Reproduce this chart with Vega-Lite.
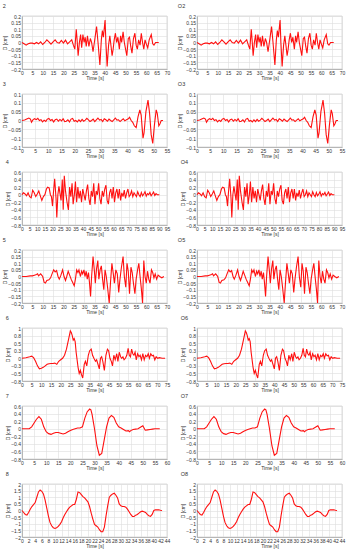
{
"$schema": "https://vega.github.io/schema/vega-lite/v6.json",
"background": "white",
"padding": {"left": 2, "top": 3, "right": 2, "bottom": 0},
"columns": 2,
"spacing": {"row": 0, "column": 6},
"config": {
  "view": {"stroke": "#b8b8b8", "strokeWidth": 0.6},
  "line": {"color": "#ff1010", "strokeWidth": 1.1, "interpolate": "linear"},
  "axis": {"labelFontSize": 5, "titleFontSize": 5, "labelFont": "Liberation Sans", "titleFont": "Liberation Sans", "labelColor": "#333333", "titleColor": "#333333", "titleFontWeight": "normal", "gridColor": "#dddddd", "gridWidth": 0.6, "domainColor": "#999999", "domainWidth": 0.6, "tickColor": "#999999", "tickSize": 0, "labelPadding": 1.5, "titlePadding": 0, "labelOverlap": false, "labelFlush": false},
  "title": {"fontSize": 5.5, "font": "Liberation Sans", "fontWeight": "normal", "anchor": "start", "frame": "bounds", "offset": 5, "color": "#333333"}
},
"datasets": {
"s2": [{"t":0,"d":0},{"t":1,"d":-0.01},{"t":2,"d":-0.02},{"t":3,"d":-0.01},{"t":4,"d":-0.005},{"t":5,"d":-0.005},{"t":6,"d":-0.01},{"t":7,"d":0},{"t":8,"d":-0.01},{"t":9,"d":0.005},{"t":10,"d":-0.015},{"t":11,"d":0},{"t":12,"d":0.02},{"t":13,"d":0.005},{"t":14,"d":-0.012},{"t":15,"d":0.005},{"t":16,"d":0.02},{"t":17,"d":0},{"t":18,"d":-0.005},{"t":19,"d":0.015},{"t":20,"d":-0.005},{"t":21,"d":0.018},{"t":22,"d":-0.01},{"t":23,"d":0.005},{"t":24,"d":0.02},{"t":24.8,"d":-0.02},{"t":25.5,"d":-0.05},{"t":26.2,"d":0.1},{"t":26.6,"d":0.02},{"t":27.1,"d":-0.1},{"t":27.7,"d":0},{"t":28.3,"d":0.06},{"t":28.8,"d":-0.04},{"t":29.4,"d":0.06},{"t":30,"d":0},{"t":30.5,"d":0.04},{"t":31,"d":-0.03},{"t":31.6,"d":0.05},{"t":32.3,"d":-0.03},{"t":33,"d":0.03},{"t":33.6,"d":0},{"t":34.3,"d":-0.07},{"t":35.2,"d":0.03},{"t":36,"d":0.12},{"t":36.7,"d":0},{"t":37.6,"d":-0.17},{"t":38.3,"d":0.02},{"t":38.8,"d":0.09},{"t":39.3,"d":0.04},{"t":40.1,"d":0.17},{"t":40.5,"d":0},{"t":41.1,"d":-0.18},{"t":41.8,"d":-0.02},{"t":42.4,"d":0.05},{"t":43,"d":-0.03},{"t":43.5,"d":-0.1},{"t":44,"d":-0.05},{"t":44.5,"d":0.02},{"t":45.1,"d":0.07},{"t":45.7,"d":0},{"t":46.3,"d":0.04},{"t":47,"d":-0.05},{"t":47.6,"d":0.05},{"t":48.1,"d":0},{"t":48.8,"d":0.08},{"t":49.4,"d":0},{"t":50,"d":-0.05},{"t":50.6,"d":-0.1},{"t":51.3,"d":0.03},{"t":51.9,"d":0.04},{"t":52.5,"d":-0.03},{"t":53.1,"d":-0.08},{"t":53.8,"d":0.03},{"t":54.5,"d":0.07},{"t":55.1,"d":-0.02},{"t":55.7,"d":-0.05},{"t":56.3,"d":0.02},{"t":57,"d":-0.02},{"t":57.6,"d":0.07},{"t":58.2,"d":0},{"t":58.8,"d":-0.05},{"t":59.4,"d":0.02},{"t":60,"d":-0.01},{"t":60.7,"d":-0.04},{"t":61.4,"d":0.02},{"t":62.4,"d":0.06},{"t":63.1,"d":-0.01},{"t":63.7,"d":-0.02},{"t":64.5,"d":0},{"t":65.5,"d":0},{"t":66,"d":0}],
"s3": [{"t":0,"d":0},{"t":1,"d":0.003},{"t":2,"d":0.01},{"t":2.6,"d":0.014},{"t":3.2,"d":0.008},{"t":3.6,"d":-0.01},{"t":4.2,"d":0.005},{"t":4.8,"d":0.01},{"t":5.4,"d":0.005},{"t":6,"d":0.012},{"t":6.6,"d":0},{"t":7.2,"d":0.005},{"t":7.8,"d":-0.008},{"t":8.4,"d":0.002},{"t":9,"d":-0.005},{"t":9.6,"d":0.008},{"t":10.2,"d":0.012},{"t":10.8,"d":0},{"t":11.4,"d":0.006},{"t":12,"d":-0.008},{"t":12.6,"d":0.004},{"t":13.2,"d":0.008},{"t":13.8,"d":-0.004},{"t":14.4,"d":0.006},{"t":15,"d":-0.002},{"t":15.6,"d":0.01},{"t":16.2,"d":-0.006},{"t":16.8,"d":-0.004},{"t":17.4,"d":0.004},{"t":18,"d":-0.008},{"t":18.6,"d":0.008},{"t":19.2,"d":0.012},{"t":19.8,"d":-0.004},{"t":20.4,"d":0},{"t":21,"d":-0.008},{"t":21.6,"d":0.004},{"t":22.2,"d":-0.006},{"t":22.8,"d":0.006},{"t":23.4,"d":-0.004},{"t":24,"d":0.002},{"t":24.6,"d":0.012},{"t":25.2,"d":0.004},{"t":25.8,"d":-0.006},{"t":26.4,"d":0},{"t":27,"d":0.008},{"t":27.6,"d":-0.006},{"t":28.2,"d":0.004},{"t":28.8,"d":0.014},{"t":29.4,"d":0.002},{"t":30,"d":0.006},{"t":30.6,"d":-0.006},{"t":31.2,"d":0.01},{"t":31.8,"d":0.004},{"t":32.4,"d":-0.004},{"t":33,"d":0.008},{"t":33.6,"d":0},{"t":34.2,"d":-0.006},{"t":34.8,"d":0.004},{"t":35.4,"d":0.014},{"t":36,"d":0.002},{"t":36.6,"d":0.004},{"t":37.2,"d":-0.006},{"t":37.8,"d":0.002},{"t":38.4,"d":0.01},{"t":39,"d":-0.002},{"t":39.6,"d":0.004},{"t":40.2,"d":0.008},{"t":40.8,"d":0.018},{"t":41.4,"d":0},{"t":42,"d":-0.01},{"t":42.6,"d":-0.03},{"t":43.3,"d":-0.04},{"t":44,"d":0.02},{"t":44.7,"d":0.06},{"t":45.2,"d":0.03},{"t":45.9,"d":-0.1},{"t":46.3,"d":-0.07},{"t":47,"d":0.05},{"t":47.8,"d":0.115},{"t":48.4,"d":0.04},{"t":49,"d":-0.08},{"t":49.6,"d":-0.13},{"t":50.2,"d":-0.03},{"t":50.9,"d":0.06},{"t":51.3,"d":0.04},{"t":51.9,"d":-0.03},{"t":52.3,"d":-0.02},{"t":52.8,"d":0},{"t":53.5,"d":0}],
"s4": [{"t":0,"d":0},{"t":1,"d":0.05},{"t":2,"d":0.02},{"t":3,"d":-0.03},{"t":4,"d":0.05},{"t":5,"d":-0.05},{"t":6,"d":-0.08},{"t":7,"d":0.12},{"t":8,"d":0.05},{"t":9,"d":-0.05},{"t":10,"d":0.02},{"t":11,"d":0.1},{"t":12,"d":-0.03},{"t":13,"d":-0.15},{"t":14,"d":-0.05},{"t":15,"d":0},{"t":16,"d":0.15},{"t":16.8,"d":0.2},{"t":17.8,"d":0.18},{"t":18.6,"d":0},{"t":19.3,"d":-0.05},{"t":20,"d":-0.3},{"t":20.6,"d":0.05},{"t":21.4,"d":0.42},{"t":22.3,"d":-0.1},{"t":22.8,"d":-0.6},{"t":23.5,"d":0},{"t":24.2,"d":0.22},{"t":25,"d":0},{"t":25.6,"d":-0.15},{"t":26.4,"d":0.4},{"t":27,"d":-0.4},{"t":27.7,"d":0.5},{"t":28.5,"d":0.1},{"t":29.5,"d":-0.2},{"t":30.4,"d":-0.4},{"t":31.2,"d":0.2},{"t":32,"d":-0.05},{"t":32.8,"d":0.3},{"t":33.5,"d":-0.25},{"t":34.3,"d":0},{"t":35,"d":0.35},{"t":35.8,"d":-0.2},{"t":36.6,"d":0.2},{"t":37.4,"d":-0.1},{"t":38.2,"d":0.1},{"t":39,"d":-0.2},{"t":39.8,"d":0.15},{"t":40.6,"d":0},{"t":41.4,"d":-0.15},{"t":42.2,"d":0.1},{"t":43,"d":0.27},{"t":43.8,"d":-0.1},{"t":44.6,"d":-0.27},{"t":45.4,"d":0.1},{"t":46.2,"d":-0.05},{"t":47,"d":0.3},{"t":47.8,"d":-0.25},{"t":48.6,"d":0.1},{"t":49.4,"d":0},{"t":50.2,"d":0.3},{"t":51,"d":-0.1},{"t":51.8,"d":-0.25},{"t":52.6,"d":0.1},{"t":53.4,"d":-0.05},{"t":54.2,"d":0.15},{"t":55,"d":0.25},{"t":55.8,"d":-0.15},{"t":56.6,"d":-0.25},{"t":57.4,"d":0.05},{"t":58.2,"d":0.15},{"t":59,"d":-0.1},{"t":59.8,"d":0.2},{"t":60.6,"d":-0.2},{"t":61.4,"d":0.05},{"t":62.2,"d":0.15},{"t":63,"d":-0.1},{"t":63.8,"d":0.15},{"t":64.6,"d":-0.15},{"t":65.4,"d":0.05},{"t":66.2,"d":-0.05},{"t":67,"d":0.12},{"t":67.8,"d":-0.1},{"t":68.6,"d":0.05},{"t":69.4,"d":0.15},{"t":70.2,"d":-0.05},{"t":71,"d":0},{"t":71.8,"d":0.1},{"t":72.6,"d":-0.05},{"t":73.4,"d":0.05},{"t":74.2,"d":0},{"t":75,"d":-0.05},{"t":75.8,"d":0.08},{"t":76.6,"d":0},{"t":77.4,"d":-0.05},{"t":78.2,"d":0.06},{"t":79,"d":-0.03},{"t":79.8,"d":0.02},{"t":80.6,"d":0.08},{"t":81.4,"d":-0.04},{"t":82.2,"d":0.03},{"t":83,"d":0},{"t":83.8,"d":0.06},{"t":84.6,"d":-0.03},{"t":85.4,"d":0.02},{"t":86.2,"d":0.07},{"t":87,"d":-0.02},{"t":87.8,"d":0.03},{"t":88.6,"d":0},{"t":90,"d":0}],
"s5": [{"t":0,"d":0},{"t":2,"d":0},{"t":4,"d":0.005},{"t":5,"d":0.005},{"t":6,"d":0.01},{"t":7,"d":0.015},{"t":7.5,"d":0.02},{"t":8,"d":0.005},{"t":9,"d":0.02},{"t":9.5,"d":0.01},{"t":10,"d":0},{"t":10.7,"d":-0.045},{"t":11.3,"d":-0.05},{"t":12,"d":-0.03},{"t":13,"d":-0.025},{"t":13.8,"d":-0.01},{"t":14.5,"d":0.02},{"t":15.3,"d":0.05},{"t":16,"d":0.035},{"t":16.7,"d":0.045},{"t":17.4,"d":0},{"t":18,"d":-0.02},{"t":18.8,"d":0.01},{"t":19.6,"d":0.05},{"t":20.3,"d":0},{"t":21,"d":-0.03},{"t":21.6,"d":0},{"t":22.3,"d":0.04},{"t":23,"d":0.01},{"t":23.7,"d":-0.02},{"t":24.3,"d":-0.04},{"t":25.2,"d":-0.07},{"t":25.8,"d":-0.02},{"t":26.4,"d":0.05},{"t":27,"d":0.03},{"t":27.5,"d":0.05},{"t":28.2,"d":0},{"t":28.8,"d":0.04},{"t":29.3,"d":0.02},{"t":29.9,"d":0.05},{"t":30.4,"d":0},{"t":31,"d":0.04},{"t":31.5,"d":-0.02},{"t":32.1,"d":0.03},{"t":32.6,"d":-0.05},{"t":33.1,"d":-0.15},{"t":33.6,"d":0},{"t":34.3,"d":0.15},{"t":34.9,"d":0.05},{"t":35.4,"d":-0.05},{"t":36,"d":0.06},{"t":36.6,"d":0.12},{"t":37.1,"d":-0.02},{"t":37.7,"d":0.05},{"t":38.3,"d":0.08},{"t":38.9,"d":-0.02},{"t":39.5,"d":-0.1},{"t":40.1,"d":0.05},{"t":40.7,"d":0},{"t":41.3,"d":-0.08},{"t":42.1,"d":-0.2},{"t":42.7,"d":-0.05},{"t":43.4,"d":0.1},{"t":44,"d":0.03},{"t":44.6,"d":-0.05},{"t":45.3,"d":0.05},{"t":46,"d":0.02},{"t":46.7,"d":-0.12},{"t":47.3,"d":-0.02},{"t":48,"d":0.07},{"t":48.8,"d":0.15},{"t":49.4,"d":0},{"t":50.1,"d":-0.08},{"t":50.7,"d":0.1},{"t":51.3,"d":0.04},{"t":51.9,"d":-0.13},{"t":52.6,"d":0.07},{"t":53.2,"d":0.03},{"t":53.8,"d":-0.05},{"t":54.5,"d":-0.13},{"t":55.1,"d":-0.02},{"t":55.8,"d":0.05},{"t":56.4,"d":0.1},{"t":57,"d":0},{"t":57.6,"d":-0.09},{"t":58.2,"d":-0.2},{"t":58.8,"d":0.12},{"t":59.4,"d":0},{"t":60,"d":-0.05},{"t":60.6,"d":0.04},{"t":61.2,"d":-0.02},{"t":61.8,"d":-0.05},{"t":62.5,"d":0.05},{"t":63.1,"d":0.03},{"t":63.7,"d":-0.01},{"t":64.3,"d":0.02},{"t":65,"d":-0.02},{"t":65.7,"d":0.01},{"t":66.5,"d":0},{"t":67.5,"d":-0.01},{"t":68.5,"d":0}],
"s6": [{"t":0,"d":0},{"t":2,"d":0.02},{"t":4,"d":0.05},{"t":5,"d":0.07},{"t":6,"d":0.02},{"t":7,"d":-0.1},{"t":8,"d":-0.25},{"t":9,"d":-0.35},{"t":10,"d":-0.33},{"t":11,"d":-0.3},{"t":12,"d":-0.25},{"t":13,"d":-0.2},{"t":14,"d":-0.18},{"t":15,"d":-0.17},{"t":16,"d":-0.17},{"t":17,"d":-0.16},{"t":18,"d":-0.2},{"t":19,"d":-0.1},{"t":20,"d":-0.05},{"t":21,"d":0},{"t":22,"d":0.1},{"t":23,"d":0.3},{"t":24,"d":0.6},{"t":25,"d":0.9},{"t":25.5,"d":0.85},{"t":26,"d":0.75},{"t":26.5,"d":0.6},{"t":27,"d":0.65},{"t":27.5,"d":0.55},{"t":28,"d":0.2},{"t":29,"d":-0.3},{"t":29.6,"d":-0.5},{"t":30.2,"d":-0.4},{"t":30.8,"d":-0.55},{"t":31.4,"d":-0.65},{"t":32.2,"d":-0.2},{"t":32.8,"d":-0.1},{"t":33.5,"d":-0.25},{"t":34.3,"d":0.1},{"t":35,"d":0.25},{"t":35.8,"d":0.3},{"t":36.5,"d":0.1},{"t":37.2,"d":0},{"t":38,"d":-0.1},{"t":38.6,"d":-0.05},{"t":39.3,"d":-0.2},{"t":40,"d":-0.35},{"t":40.6,"d":0},{"t":41.2,"d":0.05},{"t":41.8,"d":-0.1},{"t":42.6,"d":-0.4},{"t":43.4,"d":0.1},{"t":44.2,"d":0.3},{"t":44.8,"d":0.25},{"t":45.5,"d":0},{"t":46.2,"d":-0.1},{"t":46.8,"d":-0.25},{"t":47.5,"d":0.1},{"t":48.2,"d":-0.05},{"t":49,"d":0.15},{"t":49.6,"d":-0.1},{"t":50.3,"d":0.2},{"t":51,"d":0.05},{"t":51.6,"d":0},{"t":52.2,"d":0.05},{"t":52.8,"d":-0.05},{"t":53.5,"d":0},{"t":54.2,"d":0.1},{"t":54.9,"d":0.33},{"t":55.5,"d":0.1},{"t":56.1,"d":0.05},{"t":56.7,"d":0.3},{"t":57.3,"d":0.15},{"t":57.9,"d":0.1},{"t":58.5,"d":0.2},{"t":59.1,"d":-0.05},{"t":59.8,"d":0.15},{"t":60.5,"d":0.05},{"t":61.1,"d":0.1},{"t":61.8,"d":-0.05},{"t":62.5,"d":0.15},{"t":63.2,"d":-0.05},{"t":63.9,"d":0.1},{"t":64.6,"d":0.05},{"t":65.3,"d":0.15},{"t":65.9,"d":0},{"t":66.6,"d":0.15},{"t":67.3,"d":0.08},{"t":68,"d":0.1},{"t":68.7,"d":-0.05},{"t":69.4,"d":0.05},{"t":70.2,"d":0},{"t":71,"d":0.02},{"t":72.5,"d":0},{"t":74,"d":0}],
"s7": [{"t":0,"d":0},{"t":1,"d":0},{"t":2,"d":0},{"t":3,"d":0},{"t":4,"d":0.05},{"t":5,"d":0.15},{"t":6,"d":0.25},{"t":7,"d":0.32},{"t":8,"d":0.25},{"t":9,"d":0.05},{"t":10,"d":-0.08},{"t":11,"d":-0.13},{"t":12,"d":-0.15},{"t":13,"d":-0.12},{"t":14,"d":-0.1},{"t":15,"d":-0.1},{"t":16,"d":-0.12},{"t":17,"d":-0.14},{"t":18,"d":-0.12},{"t":19,"d":-0.08},{"t":20,"d":-0.05},{"t":21,"d":-0.02},{"t":22,"d":0},{"t":23,"d":0.02},{"t":24,"d":0.02},{"t":25,"d":0.05},{"t":26,"d":0.28},{"t":27,"d":0.45},{"t":28,"d":0.52},{"t":28.5,"d":0.5},{"t":29,"d":0.38},{"t":30,"d":0},{"t":31,"d":-0.45},{"t":32,"d":-0.7},{"t":33,"d":-0.65},{"t":34,"d":-0.3},{"t":35,"d":0.05},{"t":36,"d":0.28},{"t":37,"d":0.35},{"t":38,"d":0.3},{"t":39,"d":0.15},{"t":40,"d":0.05},{"t":41,"d":0.02},{"t":42,"d":-0.02},{"t":43,"d":-0.06},{"t":44,"d":-0.05},{"t":44.5,"d":-0.08},{"t":45,"d":-0.05},{"t":46,"d":-0.02},{"t":47,"d":-0.01},{"t":48,"d":0},{"t":49,"d":0.04},{"t":50,"d":0.08},{"t":51,"d":-0.04},{"t":52,"d":-0.03},{"t":53,"d":-0.02},{"t":54,"d":-0.01},{"t":55,"d":0},{"t":56,"d":0},{"t":57,"d":0}],
"s8": [{"t":0,"d":0},{"t":0.5,"d":-0.15},{"t":1,"d":-0.3},{"t":1.5,"d":-0.35},{"t":2,"d":-0.15},{"t":2.5,"d":0.1},{"t":3,"d":0.3},{"t":3.5,"d":0.45},{"t":4,"d":0.6},{"t":4.5,"d":1.0},{"t":5,"d":1.4},{"t":5.5,"d":1.55},{"t":6,"d":1.45},{"t":6.5,"d":1.25},{"t":7,"d":0.8},{"t":7.5,"d":0.2},{"t":8,"d":-0.4},{"t":8.5,"d":-0.9},{"t":9,"d":-1.15},{"t":9.5,"d":-1.3},{"t":10,"d":-1.35},{"t":10.5,"d":-1.3},{"t":11,"d":-1.2},{"t":11.5,"d":-1.05},{"t":12,"d":-0.85},{"t":12.5,"d":-0.55},{"t":13,"d":-0.3},{"t":13.5,"d":-0.1},{"t":14,"d":0.1},{"t":14.5,"d":0.25},{"t":15,"d":0.35},{"t":15.5,"d":0.45},{"t":16,"d":0.45},{"t":16.5,"d":0.85},{"t":17,"d":1.4},{"t":17.5,"d":1.35},{"t":18,"d":1.2},{"t":18.5,"d":1.05},{"t":19,"d":0.95},{"t":19.5,"d":0.8},{"t":20,"d":0.65},{"t":20.5,"d":0.3},{"t":21,"d":-0.2},{"t":21.5,"d":-0.65},{"t":22,"d":-1.05},{"t":22.5,"d":-1.15},{"t":23,"d":-1.25},{"t":23.5,"d":-1.45},{"t":24,"d":-1.6},{"t":24.5,"d":-1.6},{"t":25,"d":-1.25},{"t":25.5,"d":-0.4},{"t":26,"d":0.35},{"t":26.5,"d":1.0},{"t":27,"d":1.15},{"t":27.5,"d":1.25},{"t":28,"d":1.3},{"t":28.5,"d":1.15},{"t":29,"d":0.95},{"t":29.5,"d":0.5},{"t":30,"d":0.35},{"t":30.5,"d":0.3},{"t":31,"d":0.3},{"t":31.5,"d":0.25},{"t":32,"d":0.1},{"t":32.5,"d":-0.1},{"t":33,"d":-0.3},{"t":33.5,"d":-0.45},{"t":34,"d":-0.45},{"t":34.5,"d":-0.35},{"t":35,"d":-0.3},{"t":35.5,"d":-0.2},{"t":36,"d":-0.1},{"t":36.5,"d":-0.05},{"t":37,"d":-0.1},{"t":37.5,"d":-0.15},{"t":38,"d":-0.3},{"t":38.5,"d":-0.4},{"t":39,"d":-0.45},{"t":39.5,"d":-0.3},{"t":40,"d":0},{"t":40.5,"d":0.05},{"t":41,"d":0.05},{"t":41.5,"d":0.05},{"t":42,"d":0.02},{"t":42.5,"d":0}]
},
"concat": [
{"title": "2", "width": 145, "height": 53, "data": {"name": "s2"}, "mark": "line", "encoding": {
 "x": {"field": "t", "type": "quantitative", "scale": {"domain": [0, 70], "nice": false}, "axis": {"title": "Time [s]", "values": [0,5,10,15,20,25,30,35,40,45,50,55,60,65,70]}},
 "y": {"field": "d", "type": "quantitative", "scale": {"domain": [-0.2, 0.2], "nice": false}, "axis": {"title": "D [cm]", "format": "~g", "values": [-0.2,-0.15,-0.1,-0.05,0,0.05,0.1,0.15,0.2]}}}},
{"title": "O2", "width": 145, "height": 53, "data": {"name": "s2"}, "mark": "line", "encoding": {
 "x": {"field": "t", "type": "quantitative", "scale": {"domain": [0, 70], "nice": false}, "axis": {"title": "Time [s]", "values": [0,5,10,15,20,25,30,35,40,45,50,55,60,65,70]}},
 "y": {"field": "d", "type": "quantitative", "scale": {"domain": [-0.2, 0.2], "nice": false}, "axis": {"title": "D [cm]", "format": "~g", "values": [-0.2,-0.15,-0.1,-0.05,0,0.05,0.1,0.15,0.2]}}}},
{"title": "3", "width": 145, "height": 53, "data": {"name": "s3"}, "mark": "line", "encoding": {
 "x": {"field": "t", "type": "quantitative", "scale": {"domain": [0, 55], "nice": false}, "axis": {"title": "Time [s]", "values": [0,5,10,15,20,25,30,35,40,45,50,55]}},
 "y": {"field": "d", "type": "quantitative", "scale": {"domain": [-0.15, 0.15], "nice": false}, "axis": {"title": "D [cm]", "format": "~g", "values": [-0.15,-0.1,-0.05,0,0.05,0.1,0.15]}}}},
{"title": "O3", "width": 145, "height": 53, "data": {"name": "s3"}, "mark": "line", "encoding": {
 "x": {"field": "t", "type": "quantitative", "scale": {"domain": [0, 55], "nice": false}, "axis": {"title": "Time [s]", "values": [0,5,10,15,20,25,30,35,40,45,50,55]}},
 "y": {"field": "d", "type": "quantitative", "scale": {"domain": [-0.15, 0.15], "nice": false}, "axis": {"title": "D [cm]", "format": "~g", "values": [-0.15,-0.1,-0.05,0,0.05,0.1,0.15]}}}},
{"title": "4", "width": 145, "height": 53, "data": {"name": "s4"}, "mark": "line", "encoding": {
 "x": {"field": "t", "type": "quantitative", "scale": {"domain": [0, 95], "nice": false}, "axis": {"title": "Time [s]", "values": [0,5,10,15,20,25,30,35,40,45,50,55,60,65,70,75,80,85,90,95]}},
 "y": {"field": "d", "type": "quantitative", "scale": {"domain": [-0.8, 0.6], "nice": false}, "axis": {"title": "D [cm]", "format": "~g", "values": [-0.8,-0.6,-0.4,-0.2,0,0.2,0.4,0.6]}}}},
{"title": "O4", "width": 145, "height": 53, "data": {"name": "s4"}, "mark": "line", "encoding": {
 "x": {"field": "t", "type": "quantitative", "scale": {"domain": [0, 95], "nice": false}, "axis": {"title": "Time [s]", "values": [0,5,10,15,20,25,30,35,40,45,50,55,60,65,70,75,80,85,90,95]}},
 "y": {"field": "d", "type": "quantitative", "scale": {"domain": [-0.8, 0.6], "nice": false}, "axis": {"title": "D [cm]", "format": "~g", "values": [-0.8,-0.6,-0.4,-0.2,0,0.2,0.4,0.6]}}}},
{"title": "5", "width": 145, "height": 53, "data": {"name": "s5"}, "mark": "line", "encoding": {
 "x": {"field": "t", "type": "quantitative", "scale": {"domain": [0, 70], "nice": false}, "axis": {"title": "Time [s]", "values": [0,5,10,15,20,25,30,35,40,45,50,55,60,65,70]}},
 "y": {"field": "d", "type": "quantitative", "scale": {"domain": [-0.2, 0.2], "nice": false}, "axis": {"title": "D [cm]", "format": "~g", "values": [-0.2,-0.15,-0.1,-0.05,0,0.05,0.1,0.15,0.2]}}}},
{"title": "O5", "width": 145, "height": 53, "data": {"name": "s5"}, "mark": "line", "encoding": {
 "x": {"field": "t", "type": "quantitative", "scale": {"domain": [0, 70], "nice": false}, "axis": {"title": "Time [s]", "values": [0,5,10,15,20,25,30,35,40,45,50,55,60,65,70]}},
 "y": {"field": "d", "type": "quantitative", "scale": {"domain": [-0.2, 0.2], "nice": false}, "axis": {"title": "D [cm]", "format": "~g", "values": [-0.2,-0.15,-0.1,-0.05,0,0.05,0.1,0.15,0.2]}}}},
{"title": "6", "width": 145, "height": 53, "data": {"name": "s6"}, "mark": "line", "encoding": {
 "x": {"field": "t", "type": "quantitative", "scale": {"domain": [0, 75], "nice": false}, "axis": {"title": "Time [s]", "values": [0,5,10,15,20,25,30,35,40,45,50,55,60,65,70,75]}},
 "y": {"field": "d", "type": "quantitative", "scale": {"domain": [-0.75, 1], "nice": false}, "axis": {"title": "D [cm]", "format": "~g", "values": [-0.75,-0.5,-0.25,0,0.25,0.5,0.75,1]}}}},
{"title": "O6", "width": 145, "height": 53, "data": {"name": "s6"}, "mark": "line", "encoding": {
 "x": {"field": "t", "type": "quantitative", "scale": {"domain": [0, 75], "nice": false}, "axis": {"title": "Time [s]", "values": [0,5,10,15,20,25,30,35,40,45,50,55,60,65,70,75]}},
 "y": {"field": "d", "type": "quantitative", "scale": {"domain": [-0.75, 1], "nice": false}, "axis": {"title": "D [cm]", "format": "~g", "values": [-0.75,-0.5,-0.25,0,0.25,0.5,0.75,1]}}}},
{"title": "7", "width": 145, "height": 53, "data": {"name": "s7"}, "mark": "line", "encoding": {
 "x": {"field": "t", "type": "quantitative", "scale": {"domain": [0, 60], "nice": false}, "axis": {"title": "Time [s]", "values": [0,5,10,15,20,25,30,35,40,45,50,55,60]}},
 "y": {"field": "d", "type": "quantitative", "scale": {"domain": [-0.8, 0.6], "nice": false}, "axis": {"title": "D [cm]", "format": "~g", "values": [-0.8,-0.6,-0.4,-0.2,0,0.2,0.4,0.6]}}}},
{"title": "O7", "width": 145, "height": 53, "data": {"name": "s7"}, "mark": "line", "encoding": {
 "x": {"field": "t", "type": "quantitative", "scale": {"domain": [0, 60], "nice": false}, "axis": {"title": "Time [s]", "values": [0,5,10,15,20,25,30,35,40,45,50,55,60]}},
 "y": {"field": "d", "type": "quantitative", "scale": {"domain": [-0.8, 0.6], "nice": false}, "axis": {"title": "D [cm]", "format": "~g", "values": [-0.8,-0.6,-0.4,-0.2,0,0.2,0.4,0.6]}}}},
{"title": "8", "width": 145, "height": 53, "data": {"name": "s8"}, "mark": "line", "encoding": {
 "x": {"field": "t", "type": "quantitative", "scale": {"domain": [0, 44], "nice": false}, "axis": {"title": "Time [s]", "values": [0,2,4,6,8,10,12,14,16,18,20,22,24,26,28,30,32,34,36,38,40,42,44]}},
 "y": {"field": "d", "type": "quantitative", "scale": {"domain": [-2, 2], "nice": false}, "axis": {"title": "D [cm]", "format": "~g", "values": [-2,-1.5,-1,-0.5,0,0.5,1,1.5,2]}}}},
{"title": "O8", "width": 145, "height": 53, "data": {"name": "s8"}, "mark": "line", "encoding": {
 "x": {"field": "t", "type": "quantitative", "scale": {"domain": [0, 44], "nice": false}, "axis": {"title": "Time [s]", "values": [0,2,4,6,8,10,12,14,16,18,20,22,24,26,28,30,32,34,36,38,40,42,44]}},
 "y": {"field": "d", "type": "quantitative", "scale": {"domain": [-2, 2], "nice": false}, "axis": {"title": "D [cm]", "format": "~g", "values": [-2,-1.5,-1,-0.5,0,0.5,1,1.5,2]}}}}
]
}
